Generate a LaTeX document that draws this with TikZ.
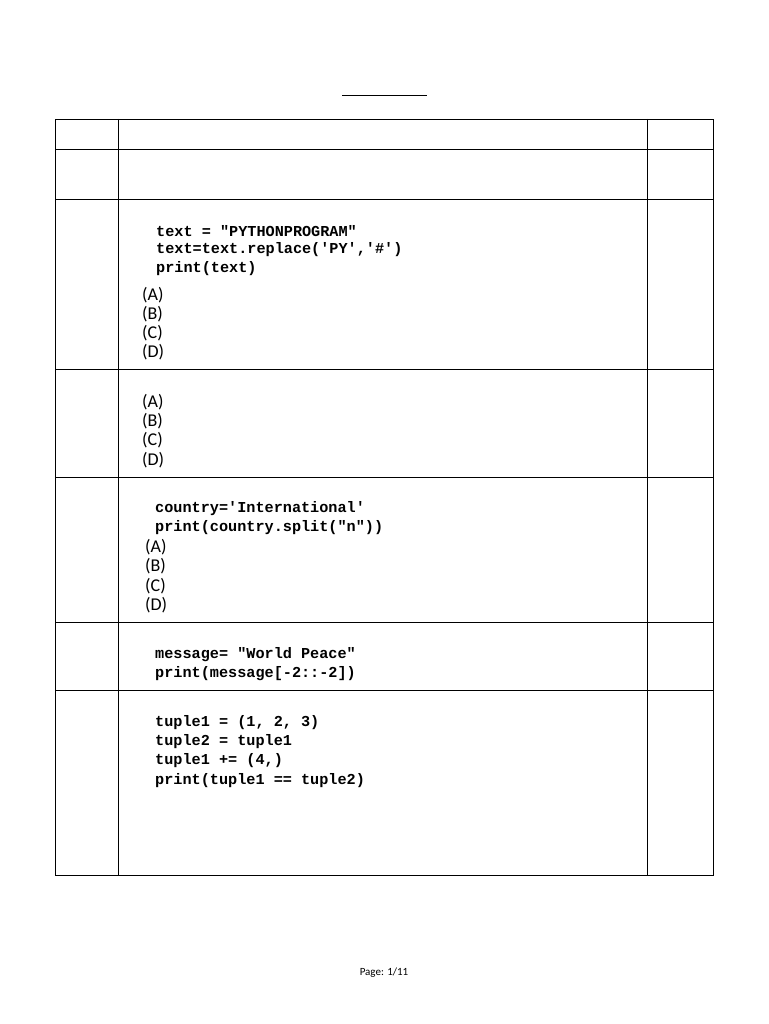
\documentclass[tikz,border=0pt]{standalone}
\usepackage{fontspec}
\setmainfont{Carlito}
\newfontfamily\codefont{Liberation Mono}
\begin{document}
\begin{tikzpicture}[x=1pt,y=-1pt,
  code/.style={anchor=west,inner sep=0pt,font=\codefont\bfseries\fontsize{15.2}{15}\selectfont},
  opt/.style={anchor=west,inner sep=0pt,font=\fontsize{18}{18}\selectfont},
  rule/.style={line width=0.8pt}]
\useasboundingbox (0,0) rectangle (768,1024);
\draw[rule] (342,95) -- (427,95);
\draw[rule] (55,119) rectangle (713,875);
\foreach \y in {149,199,369,477,622,690} \draw[rule] (55,\y) -- (713,\y);
\draw[rule] (118,119) -- (118,875);
\draw[rule] (647,119) -- (647,875);
\node[code] (c1) at (156,231) {text = "PYTHONPROGRAM"};
\node[code] (c2) at (156,250) {text=text.replace('PY','\#')};
\node[code] (c3) at (156,269) {print(text)};
\node[opt] (a1) at (142,295) {(A)};
\node[opt] (b1) at (142,314) {(B)};
\node[opt] (cc1) at (142,333) {(C)};
\node[opt] (d1) at (142,352) {(D)};
\node[opt] (a2) at (142,402) {(A)};
\node[opt] (b2) at (142,421) {(B)};
\node[opt] (cc2) at (142,440) {(C)};
\node[opt] (d2) at (142,460) {(D)};
\node[code] (c4) at (155,509) {country='International'};
\node[code] (c5) at (155,528) {print(country.split("n"))};
\node[opt] (a3) at (145,547) {(A)};
\node[opt] (b3) at (145,566) {(B)};
\node[opt] (cc3) at (145,586) {(C)};
\node[opt] (d3) at (145,605) {(D)};
\node[code] (c6) at (155,655) {message= "World Peace"};
\node[code] (c7) at (155,674) {print(message[-2::-2])};
\node[code] (c8) at (155,723) {tuple1 = (1, 2, 3)};
\node[code] (c9) at (155,742) {tuple2 = tuple1};
\node[code] (c10) at (155,761) {tuple1 += (4,)};
\node[code] (c11) at (155,781) {print(tuple1 == tuple2)};
\node[font=\fontsize{11}{11}\selectfont,inner sep=0pt] (pg) at (384,973) {Page: 1/11};
\end{tikzpicture}
\end{document}
